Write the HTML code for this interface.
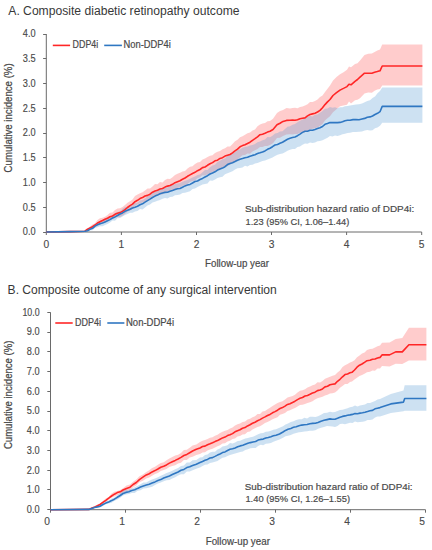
<!DOCTYPE html>
<html><head><meta charset="utf-8"><style>
html,body{margin:0;padding:0;background:#fff;}
svg{display:block;}
text{font-family:"Liberation Sans",sans-serif;fill:#4A4A4A;}
.t{font-size:10.2px;stroke:#4A4A4A;stroke-width:0.2px;}
.tk{font-size:10.1px;stroke:#4A4A4A;stroke-width:0.15px;}
.ti{font-size:12px;fill:#383838;}
</style></head><body>
<svg width="432" height="550" viewBox="0 0 432 550">
<rect width="432" height="550" fill="#fff"/>
<text x="8.3" y="14.6" class="ti" textLength="231.2" lengthAdjust="spacingAndGlyphs">A. Composite diabetic retinopathy outcome</text>
<text x="7.6" y="293.5" class="ti" textLength="269.2" lengthAdjust="spacingAndGlyphs">B. Composite outcome of any surgical intervention</text>
<path d="M46.3,34.0 V232.0 H421.7" fill="none" stroke="#6A6A6A" stroke-width="1"/>
<path d="M43.1,232.5 H46.3" stroke="#6A6A6A" stroke-width="1"/>
<text x="35.6" y="235.4" text-anchor="end" class="tk" textLength="12.8" lengthAdjust="spacingAndGlyphs">0.0</text>
<path d="M43.1,207.5 H46.3" stroke="#6A6A6A" stroke-width="1"/>
<text x="35.6" y="210.7" text-anchor="end" class="tk" textLength="12.8" lengthAdjust="spacingAndGlyphs">0.5</text>
<path d="M43.1,182.5 H46.3" stroke="#6A6A6A" stroke-width="1"/>
<text x="35.6" y="185.9" text-anchor="end" class="tk" textLength="12.8" lengthAdjust="spacingAndGlyphs">1.0</text>
<path d="M43.1,157.5 H46.3" stroke="#6A6A6A" stroke-width="1"/>
<text x="35.6" y="161.2" text-anchor="end" class="tk" textLength="12.8" lengthAdjust="spacingAndGlyphs">1.5</text>
<path d="M43.1,133.5 H46.3" stroke="#6A6A6A" stroke-width="1"/>
<text x="35.6" y="136.4" text-anchor="end" class="tk" textLength="12.8" lengthAdjust="spacingAndGlyphs">2.0</text>
<path d="M43.1,108.5 H46.3" stroke="#6A6A6A" stroke-width="1"/>
<text x="35.6" y="111.7" text-anchor="end" class="tk" textLength="12.8" lengthAdjust="spacingAndGlyphs">2.5</text>
<path d="M43.1,83.5 H46.3" stroke="#6A6A6A" stroke-width="1"/>
<text x="35.6" y="86.9" text-anchor="end" class="tk" textLength="12.8" lengthAdjust="spacingAndGlyphs">3.0</text>
<path d="M43.1,58.5 H46.3" stroke="#6A6A6A" stroke-width="1"/>
<text x="35.6" y="62.1" text-anchor="end" class="tk" textLength="12.8" lengthAdjust="spacingAndGlyphs">3.5</text>
<path d="M43.1,34.5 H46.3" stroke="#6A6A6A" stroke-width="1"/>
<text x="35.6" y="37.4" text-anchor="end" class="tk" textLength="12.8" lengthAdjust="spacingAndGlyphs">4.0</text>
<path d="M46.3,232.0 V235.0" stroke="#6A6A6A" stroke-width="1"/>
<text x="46.3" y="247.6" text-anchor="middle" class="tk" textLength="5.7" lengthAdjust="spacingAndGlyphs" style="font-size:10.8px">0</text>
<path d="M121.4,232.0 V235.0" stroke="#6A6A6A" stroke-width="1"/>
<text x="121.4" y="247.6" text-anchor="middle" class="tk" textLength="5.7" lengthAdjust="spacingAndGlyphs" style="font-size:10.8px">1</text>
<path d="M196.5,232.0 V235.0" stroke="#6A6A6A" stroke-width="1"/>
<text x="196.5" y="247.6" text-anchor="middle" class="tk" textLength="5.7" lengthAdjust="spacingAndGlyphs" style="font-size:10.8px">2</text>
<path d="M271.5,232.0 V235.0" stroke="#6A6A6A" stroke-width="1"/>
<text x="271.5" y="247.6" text-anchor="middle" class="tk" textLength="5.7" lengthAdjust="spacingAndGlyphs" style="font-size:10.8px">3</text>
<path d="M346.6,232.0 V235.0" stroke="#6A6A6A" stroke-width="1"/>
<text x="346.6" y="247.6" text-anchor="middle" class="tk" textLength="5.7" lengthAdjust="spacingAndGlyphs" style="font-size:10.8px">4</text>
<path d="M421.7,232.0 V235.0" stroke="#6A6A6A" stroke-width="1"/>
<text x="421.7" y="247.6" text-anchor="middle" class="tk" textLength="5.7" lengthAdjust="spacingAndGlyphs" style="font-size:10.8px">5</text>
<path d="M84.9,230.6 L87.5,228.9 L90.0,226.6 L92.5,224.6 L95.0,223.2 L97.5,220.0 L100.0,218.3 L102.5,217.8 L105.0,216.7 L107.5,215.1 L110.0,212.8 L112.5,212.4 L115.0,210.1 L117.5,208.5 L120.0,208.3 L122.5,207.0 L125.0,205.0 L127.5,202.7 L130.0,201.3 L132.5,199.4 L135.0,196.0 L137.5,194.4 L140.0,193.2 L142.5,192.2 L145.0,190.6 L147.5,188.6 L150.0,188.6 L152.5,186.6 L155.0,184.1 L157.5,184.2 L160.0,181.9 L162.5,182.5 L165.0,179.9 L167.5,178.7 L170.0,178.9 L172.5,177.2 L175.0,175.0 L177.5,173.8 L180.0,172.8 L182.5,171.4 L185.0,171.0 L187.5,168.4 L190.0,166.8 L192.5,166.2 L195.0,163.9 L197.5,162.4 L200.0,161.9 L202.5,159.4 L205.0,158.4 L207.5,157.0 L210.0,155.7 L212.5,155.3 L215.0,153.0 L217.5,151.8 L220.0,151.1 L222.5,149.3 L225.0,148.2 L227.5,146.5 L230.0,146.5 L232.5,143.9 L235.0,141.3 L237.5,139.7 L240.0,137.2 L242.5,136.3 L245.0,134.7 L247.5,133.2 L250.0,132.5 L252.5,130.6 L255.0,129.4 L257.5,126.2 L260.0,124.6 L262.5,123.5 L265.0,123.0 L267.5,121.3 L270.0,121.1 L273.0,118.8 L277.0,113.0 L280.0,111.0 L283.0,110.1 L286.5,108.0 L290.0,108.4 L292.5,107.9 L295.0,107.8 L297.5,108.2 L300.0,107.1 L302.5,106.6 L305.0,105.5 L307.5,104.2 L310.0,102.0 L312.5,102.0 L315.0,100.9 L317.5,99.4 L320.0,97.0 L322.5,95.4 L325.0,91.9 L327.5,88.8 L330.0,85.5 L333.0,80.4 L336.5,76.9 L340.0,74.2 L343.5,72.2 L347.0,69.8 L349.0,66.6 L351.0,67.2 L355.0,63.9 L357.5,63.3 L360.0,60.5 L364.5,55.1 L368.2,53.8 L371.9,53.6 L374.6,52.0 L377.3,50.6 L380.0,49.5 L382.2,44.4 L422.4,44.4 L422.4,85.4 L382.2,85.4 L380.0,88.9 L377.3,89.6 L374.6,90.7 L371.9,92.7 L368.2,92.6 L364.5,93.5 L360.0,98.3 L357.5,99.7 L355.0,100.2 L351.0,103.4 L349.0,101.5 L347.0,104.8 L343.5,105.5 L340.0,106.3 L336.5,109.3 L333.0,112.2 L330.0,116.2 L327.5,118.2 L325.0,120.4 L322.5,123.9 L320.0,126.1 L317.5,127.5 L315.0,128.2 L312.5,128.8 L310.0,129.5 L307.5,130.7 L305.0,132.2 L302.5,132.7 L300.0,132.7 L297.5,134.0 L295.0,134.0 L292.5,134.4 L290.0,134.3 L286.5,134.4 L283.0,136.0 L280.0,137.8 L277.0,138.0 L273.0,143.3 L270.0,144.9 L267.5,146.0 L265.0,146.0 L262.5,147.1 L260.0,147.1 L257.5,149.0 L255.0,150.3 L252.5,151.5 L250.0,153.7 L247.5,153.6 L245.0,155.1 L242.5,155.3 L240.0,157.3 L237.5,159.5 L235.0,161.6 L232.5,162.4 L230.0,164.8 L227.5,166.2 L225.0,167.0 L222.5,167.6 L220.0,169.1 L217.5,169.7 L215.0,171.1 L212.5,172.0 L210.0,172.9 L207.5,174.3 L205.0,175.6 L202.5,175.3 L200.0,177.3 L197.5,178.2 L195.0,180.6 L192.5,181.1 L190.0,182.0 L187.5,183.9 L185.0,185.3 L182.5,185.7 L180.0,187.2 L177.5,188.3 L175.0,189.3 L172.5,190.3 L170.0,191.0 L167.5,191.4 L165.0,192.5 L162.5,194.5 L160.0,194.3 L157.5,195.4 L155.0,196.5 L152.5,197.3 L150.0,199.4 L147.5,200.2 L145.0,201.6 L142.5,202.5 L140.0,203.5 L137.5,204.6 L135.0,206.0 L132.5,209.0 L130.0,210.8 L127.5,211.6 L125.0,214.1 L122.5,215.7 L120.0,217.1 L117.5,217.0 L115.0,217.7 L112.5,218.9 L110.0,219.5 L107.5,221.6 L105.0,223.0 L102.5,222.8 L100.0,224.9 L97.5,225.2 L95.0,227.5 L92.5,228.3 L90.0,229.3 L87.5,230.0 L84.9,231.8 Z" fill="#FF0000" fill-opacity="0.2"/>
<path d="M84.9,230.7 L87.5,230.1 L90.0,227.4 L92.5,226.5 L95.0,224.6 L97.5,222.7 L100.0,220.8 L102.5,219.9 L105.0,218.5 L107.5,217.3 L110.0,216.4 L112.5,215.4 L115.0,213.0 L117.5,212.1 L120.0,211.2 L122.5,208.7 L125.0,207.1 L127.5,206.7 L130.0,205.6 L132.5,203.6 L135.0,203.0 L137.5,202.4 L140.0,200.4 L142.5,199.9 L145.0,198.5 L147.5,196.1 L150.0,195.0 L152.5,192.6 L155.0,191.5 L157.5,191.1 L160.0,188.6 L162.5,188.3 L165.0,187.4 L167.5,187.3 L170.0,185.9 L172.5,185.3 L175.0,184.1 L177.5,183.6 L180.0,182.9 L182.5,181.7 L185.0,180.8 L187.5,179.9 L190.0,178.7 L192.5,177.5 L195.0,176.4 L197.5,174.9 L200.0,174.4 L202.5,172.2 L205.0,170.1 L207.5,169.9 L210.0,167.2 L212.5,165.6 L215.0,164.7 L217.5,161.9 L220.0,160.8 L222.5,159.3 L225.0,158.6 L227.5,155.4 L230.0,154.1 L232.5,153.3 L235.0,152.3 L237.5,150.1 L240.0,149.4 L242.5,147.7 L245.0,147.1 L247.5,146.6 L250.0,145.4 L252.5,144.9 L255.0,143.9 L257.5,142.2 L260.0,141.6 L262.5,140.2 L265.0,139.6 L267.5,137.1 L270.0,137.3 L272.5,135.7 L275.0,133.6 L277.5,132.9 L280.0,131.6 L282.5,131.2 L285.0,129.0 L287.5,126.7 L290.0,126.3 L292.5,124.7 L295.0,124.1 L297.5,122.3 L300.0,120.7 L302.5,119.4 L305.0,118.3 L307.5,116.8 L310.0,116.1 L312.5,116.4 L315.0,114.8 L317.5,114.5 L320.0,112.8 L322.5,111.1 L325.0,108.7 L327.5,108.5 L330.0,107.1 L332.5,107.8 L335.0,107.3 L337.5,108.3 L340.0,107.3 L342.5,107.3 L345.0,106.2 L347.5,106.1 L350.0,105.5 L353.0,104.9 L356.0,104.5 L359.0,104.3 L362.0,103.4 L364.7,102.2 L367.3,101.1 L370.0,100.3 L372.5,98.0 L375.0,96.6 L377.5,93.2 L380.0,91.1 L382.2,87.6 L422.4,87.6 L422.4,122.8 L382.2,122.8 L380.0,125.7 L377.5,127.5 L375.0,128.2 L372.5,130.2 L370.0,130.5 L367.3,130.0 L364.7,130.6 L362.0,131.6 L359.0,131.7 L356.0,132.0 L353.0,132.0 L350.0,132.7 L347.5,133.1 L345.0,133.7 L342.5,134.2 L340.0,135.2 L337.5,136.0 L335.0,135.6 L332.5,136.4 L330.0,136.1 L327.5,137.7 L325.0,138.9 L322.5,140.2 L320.0,141.1 L317.5,141.2 L315.0,142.5 L312.5,143.1 L310.0,142.5 L307.5,143.8 L305.0,143.5 L302.5,144.8 L300.0,146.4 L297.5,147.0 L295.0,149.0 L292.5,149.0 L290.0,149.7 L287.5,150.7 L285.0,152.2 L282.5,153.6 L280.0,153.9 L277.5,154.7 L275.0,155.9 L272.5,157.5 L270.0,158.6 L267.5,159.4 L265.0,160.4 L262.5,161.1 L260.0,161.9 L257.5,163.0 L255.0,163.5 L252.5,164.7 L250.0,165.0 L247.5,166.6 L245.0,165.8 L242.5,167.5 L240.0,167.9 L237.5,168.2 L235.0,169.4 L232.5,171.2 L230.0,172.3 L227.5,173.2 L225.0,174.3 L222.5,176.7 L220.0,177.2 L217.5,178.0 L215.0,179.6 L212.5,180.8 L210.0,180.6 L207.5,183.5 L205.0,184.0 L202.5,184.4 L200.0,185.8 L197.5,187.1 L195.0,188.4 L192.5,188.9 L190.0,191.3 L187.5,192.0 L185.0,192.7 L182.5,193.0 L180.0,194.4 L177.5,194.9 L175.0,195.2 L172.5,196.7 L170.0,197.1 L167.5,198.4 L165.0,198.1 L162.5,198.8 L160.0,200.1 L157.5,200.8 L155.0,201.7 L152.5,202.6 L150.0,204.6 L147.5,205.6 L145.0,207.4 L142.5,209.4 L140.0,208.9 L137.5,211.0 L135.0,211.6 L132.5,212.8 L130.0,212.7 L127.5,213.9 L125.0,214.9 L122.5,216.4 L120.0,218.1 L117.5,218.3 L115.0,220.7 L112.5,220.5 L110.0,222.5 L107.5,223.9 L105.0,225.1 L102.5,226.2 L100.0,226.2 L97.5,227.2 L95.0,228.1 L92.5,230.3 L90.0,230.3 L87.5,231.0 L84.9,231.9 Z" fill="#5B9BD5" fill-opacity="0.3"/>
<polyline points="46.3,232.0 70.0,231.6 84.9,231.2 87.5,229.2 90.0,227.9 92.5,226.7 95.0,225.0 97.5,223.0 100.0,221.7 102.5,220.5 105.0,219.2 107.5,218.2 110.0,216.8 112.5,216.0 115.0,214.3 117.5,213.2 120.0,212.6 122.5,211.4 125.0,209.6 127.5,207.5 130.0,205.6 132.5,204.1 135.0,201.7 137.5,200.3 140.0,198.6 142.5,197.6 145.0,196.0 147.5,195.4 150.0,194.2 152.5,192.2 155.0,191.0 157.5,190.2 160.0,189.0 162.5,188.5 165.0,187.1 167.5,186.1 170.0,185.5 172.5,184.3 175.0,182.7 177.5,181.7 180.0,180.8 182.5,179.3 185.0,178.0 187.5,176.3 190.0,174.9 192.5,173.5 195.0,172.3 197.5,170.7 200.0,169.5 202.5,167.6 205.0,167.0 207.5,165.3 210.0,163.8 212.5,162.6 215.0,160.8 217.5,160.2 220.0,158.4 222.5,157.7 225.0,156.1 227.5,155.3 230.0,154.5 232.5,152.8 235.0,150.8 237.5,149.1 240.0,146.8 242.5,145.6 245.0,144.8 247.5,143.5 250.0,142.2 252.5,140.3 255.0,138.7 257.5,136.8 260.0,134.7 262.5,134.2 265.0,133.3 267.5,132.1 270.0,131.2 273.0,129.5 277.0,124.8 280.0,123.2 283.0,121.4 286.5,120.4 290.0,120.2 292.5,120.0 295.0,120.2 297.5,119.8 300.0,118.8 302.5,118.3 305.0,117.9 307.5,115.9 310.0,114.5 312.5,113.9 315.0,113.3 317.5,112.0 320.0,110.4 322.5,107.7 325.0,104.6 327.5,101.9 330.0,99.5 333.0,95.5 336.5,92.7 340.0,90.1 343.5,88.4 347.0,86.6 349.0,84.2 351.0,84.8 355.0,81.3 357.5,79.5 360.0,77.1 364.5,73.2 368.2,73.2 371.9,73.2 374.6,72.3 377.3,71.6 380.0,70.8 382.2,66.0 422.4,66.0" fill="none" stroke="#FF2626" stroke-width="1.6" stroke-linejoin="round"/>
<polyline points="46.3,232.0 70.0,231.6 84.9,231.2 87.5,230.7 90.0,229.3 92.5,228.3 95.0,226.1 97.5,224.8 100.0,223.8 102.5,223.0 105.0,221.9 107.5,220.8 110.0,219.6 112.5,218.0 115.0,216.9 117.5,215.5 120.0,214.0 122.5,212.9 125.0,211.3 127.5,210.3 130.0,209.2 132.5,208.0 135.0,207.2 137.5,206.3 140.0,204.8 142.5,203.8 145.0,202.1 147.5,200.6 150.0,199.1 152.5,197.5 155.0,196.1 157.5,195.1 160.0,193.8 162.5,193.0 165.0,192.4 167.5,192.2 170.0,191.2 172.5,190.5 175.0,189.6 177.5,188.7 180.0,188.5 182.5,187.2 185.0,185.9 187.5,185.1 190.0,184.4 192.5,183.0 195.0,181.5 197.5,181.0 200.0,179.5 202.5,178.4 205.0,177.0 207.5,175.7 210.0,174.0 212.5,173.0 215.0,171.8 217.5,170.1 220.0,169.0 222.5,168.1 225.0,166.7 227.5,164.6 230.0,163.5 232.5,162.7 235.0,161.5 237.5,160.2 240.0,159.2 242.5,158.5 245.0,157.7 247.5,157.3 250.0,156.2 252.5,155.4 255.0,154.8 257.5,153.5 260.0,152.8 262.5,152.0 265.0,150.9 267.5,149.3 270.0,148.2 272.5,146.7 275.0,145.0 277.5,144.5 280.0,143.2 282.5,142.2 285.0,140.7 287.5,139.3 290.0,138.3 292.5,137.5 295.0,137.0 297.5,135.7 300.0,134.1 302.5,132.4 305.0,131.2 307.5,131.2 310.0,130.2 312.5,130.3 315.0,129.5 317.5,128.5 320.0,127.8 322.5,126.5 325.0,124.3 327.5,123.6 330.0,122.6 332.5,122.6 335.0,122.5 337.5,122.6 340.0,122.4 342.5,121.7 345.0,120.8 347.5,120.3 350.0,120.2 353.0,119.6 356.0,119.6 359.0,119.7 362.0,119.0 364.7,118.4 367.3,117.2 370.0,116.9 372.5,116.0 375.0,114.5 377.5,113.3 380.0,111.7 382.2,106.4 422.4,106.4" fill="none" stroke="#2F77C2" stroke-width="1.6" stroke-linejoin="round"/>
<path d="M50.5,312.3 V509.7 H425.5" fill="none" stroke="#6A6A6A" stroke-width="1"/>
<path d="M47.3,509.5 H50.5" stroke="#6A6A6A" stroke-width="1"/>
<text x="39.6" y="513.1" text-anchor="end" class="tk" textLength="12.8" lengthAdjust="spacingAndGlyphs">0.0</text>
<path d="M47.3,489.5 H50.5" stroke="#6A6A6A" stroke-width="1"/>
<text x="39.6" y="493.4" text-anchor="end" class="tk" textLength="12.8" lengthAdjust="spacingAndGlyphs">1.0</text>
<path d="M47.3,470.5 H50.5" stroke="#6A6A6A" stroke-width="1"/>
<text x="39.6" y="473.6" text-anchor="end" class="tk" textLength="12.8" lengthAdjust="spacingAndGlyphs">2.0</text>
<path d="M47.3,450.5 H50.5" stroke="#6A6A6A" stroke-width="1"/>
<text x="39.6" y="453.9" text-anchor="end" class="tk" textLength="12.8" lengthAdjust="spacingAndGlyphs">3.0</text>
<path d="M47.3,430.5 H50.5" stroke="#6A6A6A" stroke-width="1"/>
<text x="39.6" y="434.1" text-anchor="end" class="tk" textLength="12.8" lengthAdjust="spacingAndGlyphs">4.0</text>
<path d="M47.3,411.5 H50.5" stroke="#6A6A6A" stroke-width="1"/>
<text x="39.6" y="414.4" text-anchor="end" class="tk" textLength="12.8" lengthAdjust="spacingAndGlyphs">5.0</text>
<path d="M47.3,391.5 H50.5" stroke="#6A6A6A" stroke-width="1"/>
<text x="39.6" y="394.7" text-anchor="end" class="tk" textLength="12.8" lengthAdjust="spacingAndGlyphs">6.0</text>
<path d="M47.3,371.5 H50.5" stroke="#6A6A6A" stroke-width="1"/>
<text x="39.6" y="374.9" text-anchor="end" class="tk" textLength="12.8" lengthAdjust="spacingAndGlyphs">7.0</text>
<path d="M47.3,351.5 H50.5" stroke="#6A6A6A" stroke-width="1"/>
<text x="39.6" y="355.2" text-anchor="end" class="tk" textLength="12.8" lengthAdjust="spacingAndGlyphs">8.0</text>
<path d="M47.3,332.5 H50.5" stroke="#6A6A6A" stroke-width="1"/>
<text x="39.6" y="335.4" text-anchor="end" class="tk" textLength="12.8" lengthAdjust="spacingAndGlyphs">9.0</text>
<path d="M47.3,312.5 H50.5" stroke="#6A6A6A" stroke-width="1"/>
<text x="39.6" y="315.7" text-anchor="end" class="tk" textLength="17.2" lengthAdjust="spacingAndGlyphs">10.0</text>
<path d="M50.5,509.7 V512.7" stroke="#6A6A6A" stroke-width="1"/>
<text x="47.0" y="525.1" text-anchor="middle" class="tk" textLength="5.7" lengthAdjust="spacingAndGlyphs" style="font-size:10.8px">0</text>
<path d="M125.5,509.7 V512.7" stroke="#6A6A6A" stroke-width="1"/>
<text x="122.0" y="525.1" text-anchor="middle" class="tk" textLength="5.7" lengthAdjust="spacingAndGlyphs" style="font-size:10.8px">1</text>
<path d="M200.5,509.7 V512.7" stroke="#6A6A6A" stroke-width="1"/>
<text x="197.0" y="525.1" text-anchor="middle" class="tk" textLength="5.7" lengthAdjust="spacingAndGlyphs" style="font-size:10.8px">2</text>
<path d="M275.5,509.7 V512.7" stroke="#6A6A6A" stroke-width="1"/>
<text x="272.0" y="525.1" text-anchor="middle" class="tk" textLength="5.7" lengthAdjust="spacingAndGlyphs" style="font-size:10.8px">3</text>
<path d="M350.5,509.7 V512.7" stroke="#6A6A6A" stroke-width="1"/>
<text x="347.0" y="525.1" text-anchor="middle" class="tk" textLength="5.7" lengthAdjust="spacingAndGlyphs" style="font-size:10.8px">4</text>
<path d="M425.5,509.7 V512.7" stroke="#6A6A6A" stroke-width="1"/>
<text x="422.0" y="525.1" text-anchor="middle" class="tk" textLength="5.7" lengthAdjust="spacingAndGlyphs" style="font-size:10.8px">5</text>
<path d="M88.9,508.8 L92.0,507.7 L95.0,505.9 L97.5,504.5 L100.0,503.7 L102.9,501.0 L105.8,498.6 L108.7,496.9 L111.6,493.5 L114.4,491.7 L117.3,490.9 L120.2,489.9 L123.0,488.2 L126.5,485.6 L130.0,484.5 L133.1,481.7 L136.3,479.5 L139.4,476.3 L142.9,474.4 L146.3,472.1 L149.2,470.3 L152.1,467.9 L155.0,466.8 L157.9,464.8 L160.8,463.0 L163.7,462.2 L166.5,460.2 L169.4,458.5 L172.3,456.9 L175.2,455.4 L178.1,454.8 L181.0,452.9 L183.9,450.0 L186.8,449.7 L189.7,447.7 L192.6,445.6 L196.3,444.4 L200.0,442.0 L202.5,440.8 L205.0,440.0 L207.5,439.1 L210.0,437.7 L212.5,437.2 L215.0,435.7 L217.5,434.7 L220.0,433.0 L222.5,431.7 L225.0,430.8 L227.5,429.9 L230.0,428.5 L232.5,427.6 L235.0,425.4 L237.5,424.3 L240.0,423.6 L242.5,421.9 L245.0,421.5 L247.5,419.4 L250.0,418.8 L252.5,417.2 L255.0,416.3 L257.5,414.1 L260.0,413.9 L262.5,411.6 L265.0,411.0 L267.5,409.3 L270.0,407.7 L272.5,406.0 L275.0,404.6 L277.5,403.1 L280.0,402.0 L282.5,401.3 L285.0,399.4 L287.5,397.5 L290.0,396.8 L292.5,396.1 L295.0,394.7 L297.5,392.4 L300.0,390.7 L302.5,390.2 L305.0,389.3 L307.5,387.6 L310.0,386.4 L312.5,385.3 L315.0,384.6 L317.5,382.3 L320.0,382.6 L322.5,380.9 L325.0,378.7 L327.5,377.7 L330.0,376.7 L332.5,375.8 L335.0,375.1 L337.5,372.5 L340.0,370.5 L342.5,366.9 L345.0,365.3 L347.5,363.9 L350.0,362.6 L352.0,361.8 L354.5,360.2 L357.0,357.3 L359.5,355.5 L362.0,353.5 L364.5,352.4 L367.0,349.9 L370.0,349.1 L372.5,348.8 L375.0,347.4 L377.5,346.3 L380.0,345.4 L382.0,342.8 L389.6,342.4 L395.7,339.1 L402.3,338.1 L408.9,327.8 L426.4,327.8 L426.4,360.4 L408.9,360.4 L402.3,363.9 L395.7,363.7 L389.6,366.4 L382.0,366.0 L380.0,368.4 L377.5,368.5 L375.0,370.7 L372.5,370.6 L370.0,371.7 L367.0,372.3 L364.5,373.7 L362.0,374.9 L359.5,376.1 L357.0,377.8 L354.5,379.6 L352.0,381.6 L350.0,382.0 L347.5,384.0 L345.0,383.9 L342.5,386.0 L340.0,387.8 L337.5,390.5 L335.0,392.6 L332.5,393.2 L330.0,393.6 L327.5,394.7 L325.0,395.4 L322.5,396.8 L320.0,397.5 L317.5,398.2 L315.0,399.5 L312.5,401.2 L310.0,402.2 L307.5,403.0 L305.0,404.0 L302.5,404.7 L300.0,405.1 L297.5,406.6 L295.0,407.9 L292.5,409.1 L290.0,410.3 L287.5,411.1 L285.0,413.1 L282.5,414.1 L280.0,414.7 L277.5,417.2 L275.0,418.2 L272.5,419.3 L270.0,420.7 L267.5,421.9 L265.0,423.1 L262.5,424.8 L260.0,426.3 L257.5,427.1 L255.0,428.2 L252.5,429.5 L250.0,431.6 L247.5,431.9 L245.0,434.2 L242.5,434.4 L240.0,436.0 L237.5,436.5 L235.0,438.4 L232.5,439.1 L230.0,440.7 L227.5,441.6 L225.0,443.2 L222.5,443.5 L220.0,445.3 L217.5,446.2 L215.0,447.6 L212.5,448.7 L210.0,449.6 L207.5,450.6 L205.0,452.3 L202.5,452.4 L200.0,454.0 L196.3,455.1 L192.6,456.7 L189.7,457.4 L186.8,459.9 L183.9,459.9 L181.0,462.7 L178.1,463.5 L175.2,465.2 L172.3,466.0 L169.4,467.1 L166.5,469.1 L163.7,470.1 L160.8,471.1 L157.9,472.9 L155.0,473.9 L152.1,475.7 L149.2,477.5 L146.3,478.5 L142.9,480.8 L139.4,482.2 L136.3,485.4 L133.1,487.2 L130.0,490.2 L126.5,491.3 L123.0,492.7 L120.2,494.3 L117.3,495.1 L114.4,496.6 L111.6,497.6 L108.7,500.1 L105.8,501.8 L102.9,503.2 L100.0,505.1 L97.5,506.4 L95.0,507.4 L92.0,508.9 L88.9,509.9 Z" fill="#FF0000" fill-opacity="0.2"/>
<path d="M88.9,508.6 L91.7,508.1 L94.5,506.5 L97.2,506.3 L100.0,504.9 L102.9,503.1 L105.8,501.1 L108.7,500.7 L111.6,498.5 L114.4,497.4 L117.3,495.3 L120.2,492.9 L123.0,490.8 L125.9,489.5 L128.8,489.7 L131.8,488.5 L134.7,487.2 L137.6,485.8 L140.5,484.3 L143.4,482.6 L146.3,482.4 L149.2,480.7 L152.1,479.4 L155.0,478.4 L157.9,477.3 L160.8,475.7 L163.7,474.5 L166.5,473.1 L169.4,472.0 L172.3,470.7 L175.2,469.2 L178.1,468.0 L181.0,466.0 L183.9,465.5 L186.8,462.6 L189.7,462.5 L192.6,460.3 L196.3,460.0 L200.0,457.6 L202.5,457.2 L205.0,455.0 L207.5,454.5 L210.0,452.5 L212.5,451.8 L215.0,451.7 L217.5,449.5 L220.0,448.4 L222.5,446.5 L225.0,445.9 L227.5,445.2 L230.0,443.1 L232.6,443.4 L235.1,442.4 L237.7,441.1 L240.2,440.7 L242.8,439.5 L245.3,438.4 L247.9,438.1 L250.4,437.2 L253.0,436.7 L255.6,435.4 L258.1,434.3 L260.7,433.3 L263.2,432.9 L265.8,431.8 L268.3,431.6 L270.9,430.7 L273.4,429.7 L276.0,429.3 L279.5,427.8 L283.0,426.3 L285.5,424.6 L288.0,423.4 L290.8,422.1 L293.5,421.3 L296.2,420.0 L299.0,419.2 L301.7,419.3 L304.4,417.8 L307.1,418.6 L309.9,416.7 L312.6,416.7 L315.3,417.0 L318.0,416.2 L321.0,414.8 L324.0,413.0 L327.0,412.7 L330.0,411.8 L332.5,412.2 L335.0,411.9 L337.5,410.9 L340.0,410.1 L342.5,409.7 L345.0,409.1 L347.5,408.3 L350.0,407.3 L352.5,406.7 L355.0,405.4 L357.5,406.6 L360.0,405.6 L362.5,405.1 L365.0,404.4 L367.5,403.1 L370.0,402.9 L372.5,402.1 L375.0,401.1 L377.5,399.5 L380.0,399.1 L390.8,394.0 L403.5,390.6 L404.7,385.3 L426.4,385.3 L426.4,410.7 L404.7,410.7 L403.5,411.3 L390.8,413.0 L380.0,416.6 L377.5,416.6 L375.0,417.6 L372.5,419.4 L370.0,419.9 L367.5,420.1 L365.0,421.3 L362.5,421.7 L360.0,422.0 L357.5,422.3 L355.0,421.4 L352.5,423.0 L350.0,422.8 L347.5,423.5 L345.0,424.2 L342.5,423.7 L340.0,424.1 L337.5,425.9 L335.0,427.1 L332.5,426.5 L330.0,426.2 L327.0,425.9 L324.0,427.0 L321.0,427.8 L318.0,428.7 L315.3,430.3 L312.6,430.7 L309.9,430.8 L307.1,431.2 L304.4,431.5 L301.7,432.0 L299.0,432.2 L296.2,433.0 L293.5,433.7 L290.8,435.1 L288.0,435.7 L285.5,436.2 L283.0,437.7 L279.5,439.6 L276.0,440.8 L273.4,441.7 L270.9,443.0 L268.3,443.5 L265.8,443.7 L263.2,445.3 L260.7,444.8 L258.1,445.9 L255.6,447.9 L253.0,448.0 L250.4,448.3 L247.9,449.3 L245.3,450.1 L242.8,451.5 L240.2,452.1 L237.7,452.8 L235.1,453.5 L232.6,454.3 L230.0,455.1 L227.5,455.9 L225.0,457.2 L222.5,457.8 L220.0,459.2 L217.5,461.0 L215.0,461.8 L212.5,462.6 L210.0,463.0 L207.5,464.4 L205.0,464.8 L202.5,466.1 L200.0,467.5 L196.3,468.8 L192.6,470.3 L189.7,471.4 L186.8,471.5 L183.9,474.2 L181.0,474.2 L178.1,475.6 L175.2,477.3 L172.3,478.5 L169.4,480.0 L166.5,480.2 L163.7,481.2 L160.8,482.6 L157.9,483.5 L155.0,484.9 L152.1,486.8 L149.2,487.5 L146.3,488.3 L143.4,488.6 L140.5,490.2 L137.6,490.7 L134.7,493.0 L131.8,493.1 L128.8,494.1 L125.9,494.4 L123.0,495.6 L120.2,497.8 L117.3,499.6 L114.4,500.7 L111.6,502.8 L108.7,503.5 L105.8,504.2 L102.9,506.1 L100.0,507.5 L97.2,508.0 L94.5,507.9 L91.7,509.4 L88.9,509.9 Z" fill="#5B9BD5" fill-opacity="0.3"/>
<polyline points="50.5,509.7 88.9,509.4 92.0,508.0 95.0,507.0 97.5,505.8 100.0,504.5 102.9,502.3 105.8,500.3 108.7,498.2 111.6,496.0 114.4,494.2 117.3,492.6 120.2,491.8 123.0,490.0 126.5,488.4 130.0,487.2 133.1,484.5 136.3,482.5 139.4,479.6 142.9,477.2 146.3,474.9 149.2,473.7 152.1,471.9 155.0,470.6 157.9,469.0 160.8,467.2 163.7,466.2 166.5,464.9 169.4,463.1 172.3,461.7 175.2,460.4 178.1,459.0 181.0,457.4 183.9,455.5 186.8,454.4 189.7,452.7 192.6,451.0 196.3,449.3 200.0,448.0 202.5,446.5 205.0,446.1 207.5,444.7 210.0,443.8 212.5,442.8 215.0,441.6 217.5,440.6 220.0,439.2 222.5,437.9 225.0,437.1 227.5,435.6 230.0,434.8 232.5,433.6 235.0,431.8 237.5,430.7 240.0,429.8 242.5,428.3 245.0,427.6 247.5,425.9 250.0,424.8 252.5,423.3 255.0,422.2 257.5,420.8 260.0,419.6 262.5,418.1 265.0,416.9 267.5,415.5 270.0,414.4 272.5,412.8 275.0,411.6 277.5,410.2 280.0,408.5 282.5,407.6 285.0,406.1 287.5,404.4 290.0,403.7 292.5,402.5 295.0,401.2 297.5,399.6 300.0,398.3 302.5,397.5 305.0,396.0 307.5,395.5 310.0,394.3 312.5,393.0 315.0,392.2 317.5,390.6 320.0,390.0 322.5,388.9 325.0,386.9 327.5,386.3 330.0,384.8 332.5,384.3 335.0,383.9 337.5,381.3 340.0,379.3 342.5,376.8 345.0,374.6 347.5,373.9 350.0,372.8 352.0,372.3 354.5,370.0 357.0,367.2 359.5,365.2 362.0,364.0 364.5,362.4 367.0,360.7 370.0,360.3 372.5,359.2 375.0,359.0 377.5,358.0 380.0,357.4 382.0,354.9 389.6,354.9 395.7,351.9 402.3,351.9 408.9,344.7 426.4,344.7" fill="none" stroke="#FF2626" stroke-width="1.6" stroke-linejoin="round"/>
<polyline points="50.5,509.7 88.9,509.4 91.7,508.4 94.5,507.5 97.2,506.9 100.0,506.2 102.9,504.5 105.8,503.1 108.7,501.9 111.6,500.6 114.4,499.2 117.3,497.3 120.2,495.5 123.0,493.5 125.9,492.4 128.8,491.7 131.8,490.5 134.7,489.8 137.6,488.4 140.5,487.1 143.4,486.0 146.3,485.1 149.2,484.3 152.1,483.1 155.0,481.9 157.9,480.5 160.8,479.6 163.7,478.0 166.5,476.9 169.4,475.9 172.3,474.6 175.2,473.3 178.1,472.0 181.0,470.3 183.9,469.4 186.8,467.6 189.7,466.8 192.6,465.5 196.3,464.2 200.0,462.6 202.5,461.5 205.0,460.2 207.5,459.4 210.0,458.0 212.5,457.6 215.0,456.4 217.5,455.1 220.0,454.0 222.5,452.6 225.0,451.9 227.5,450.5 230.0,449.2 232.6,448.7 235.1,447.9 237.7,446.8 240.2,445.9 242.8,445.3 245.3,444.3 247.9,443.3 250.4,442.6 253.0,442.0 255.6,441.5 258.1,440.1 260.7,439.4 263.2,439.1 265.8,438.0 268.3,437.5 270.9,436.7 273.4,435.8 276.0,435.2 279.5,434.0 283.0,432.0 285.5,430.4 288.0,429.3 290.8,428.4 293.5,427.3 296.2,426.8 299.0,425.8 301.7,425.1 304.4,424.7 307.1,424.5 309.9,423.7 312.6,423.4 315.3,423.2 318.0,422.4 321.0,421.2 324.0,420.3 327.0,419.6 330.0,418.9 332.5,419.3 335.0,419.3 337.5,418.3 340.0,417.2 342.5,416.4 345.0,415.9 347.5,415.2 350.0,414.9 352.5,414.4 355.0,413.6 357.5,413.7 360.0,413.1 362.5,412.8 365.0,412.3 367.5,411.6 370.0,410.8 372.5,410.4 375.0,408.8 377.5,408.2 380.0,407.6 390.8,403.9 403.5,402.1 404.7,398.5 426.4,398.5" fill="none" stroke="#2F77C2" stroke-width="1.6" stroke-linejoin="round"/>
<path d="M52.8,45.4 H70.1" stroke="#FF2626" stroke-width="1.6"/>
<text x="72.6" y="48.2" class="t" textLength="25.6" lengthAdjust="spacingAndGlyphs">DDP4i</text>
<path d="M104.2,45.4 H121.9" stroke="#2F77C2" stroke-width="1.6"/>
<text x="123.5" y="48.2" class="t" textLength="47.3" lengthAdjust="spacingAndGlyphs">Non-DDP4i</text>
<path d="M55.3,323 H72.7" stroke="#FF2626" stroke-width="1.6"/>
<text x="75.1" y="325.6" class="t" textLength="25.9" lengthAdjust="spacingAndGlyphs">DDP4i</text>
<path d="M107.3,323 H124.4" stroke="#2F77C2" stroke-width="1.6"/>
<text x="126" y="325.6" class="t" textLength="48" lengthAdjust="spacingAndGlyphs">Non-DDP4i</text>
<text x="245" y="211.9" class="t" textLength="169.2" lengthAdjust="spacingAndGlyphs" style="font-size:9.9px">Sub-distribution hazard ratio of DDP4i:</text>
<text x="245.6" y="224.6" class="t" textLength="103.7" lengthAdjust="spacingAndGlyphs" style="font-size:9.9px">1.23 (95% CI, 1.06–1.44)</text>
<text x="244.8" y="489.8" class="t" textLength="167.8" lengthAdjust="spacingAndGlyphs" style="font-size:9.9px">Sub-distribution hazard ratio of DDP4i:</text>
<text x="245.4" y="502.3" class="t" textLength="104.7" lengthAdjust="spacingAndGlyphs" style="font-size:9.9px">1.40 (95% CI, 1.26–1.55)</text>
<text x="205" y="267.4" class="t" textLength="64" lengthAdjust="spacingAndGlyphs" style="font-size:10.2px">Follow-up year</text>
<text x="205.7" y="544.7" class="t" textLength="64.2" lengthAdjust="spacingAndGlyphs" style="font-size:10.2px">Follow-up year</text>
<text transform="translate(12.2,172.4) rotate(-90)" class="t" textLength="109" lengthAdjust="spacingAndGlyphs" style="font-size:10.5px;stroke-width:0.25px">Cumulative incidence (%)</text>
<text transform="translate(11.8,449.1) rotate(-90)" class="t" textLength="108.6" lengthAdjust="spacingAndGlyphs" style="font-size:10.5px;stroke-width:0.25px">Cumulative incidence (%)</text>
</svg>
</body></html>
